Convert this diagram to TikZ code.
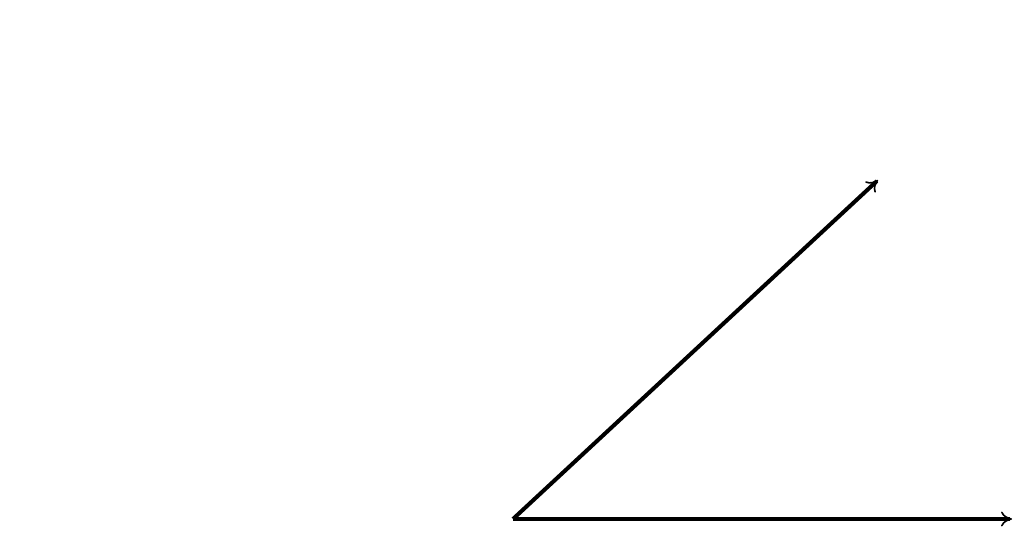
\documentclass[tikz,border=0pt]{standalone}
\usetikzlibrary{arrows.meta}
\begin{document}
\begin{tikzpicture}[x=1pt,y=-1pt,
  vec/.style={line width=4pt,-{To[length=11pt,width=15pt,line width=1.6pt]}}]
\useasboundingbox (0,0) rectangle (1024,533);
\coordinate (o) at (513,519);
\coordinate (a) at (878,180);
\coordinate (b) at (1012,519);
\draw[vec] (o) -- (a);
\draw[vec] (o) -- (b);
\end{tikzpicture}
\end{document}
